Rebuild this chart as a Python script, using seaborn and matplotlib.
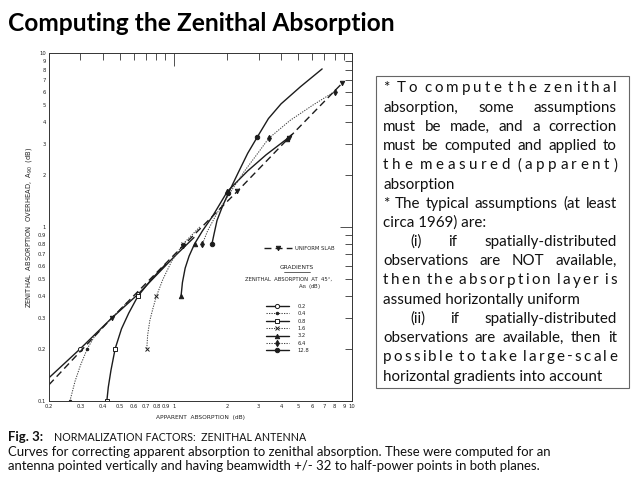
import re
import matplotlib
matplotlib.use("Agg")
import matplotlib.pyplot as plt
import seaborn as sns
from matplotlib.patches import Rectangle
from matplotlib.lines import Line2D

# ---------------------------------------------------------------------------
# Values (log-log axes, both in dB)
# ---------------------------------------------------------------------------
uniform_x = [0.2, 0.45, 1.13, 2.27, 4.42, 8.8]
uniform_y = [0.124, 0.3, 0.78, 1.6, 3.25, 6.7]

g02_x = [0.2, 0.3, 0.45, 0.63, 1.0, 1.3]
g02_y = [0.136, 0.2, 0.3, 0.41, 0.67, 0.87]

g04_x = [0.262, 0.28, 0.3, 0.328, 0.36, 0.4, 0.45, 0.55]
g04_y = [0.1, 0.13, 0.16, 0.2, 0.235, 0.265, 0.3, 0.37]

g08_x = [0.422, 0.43, 0.445, 0.47, 0.51, 0.56, 0.63, 0.75, 0.9]
g08_y = [0.1, 0.12, 0.15, 0.2, 0.26, 0.32, 0.4, 0.5, 0.61]

g16_x = [0.707, 0.715, 0.735, 0.765, 0.8, 0.87, 0.97, 1.13, 1.4]
g16_y = [0.2, 0.24, 0.29, 0.34, 0.4, 0.5, 0.63, 0.8, 1.0]

g32_x = [1.1, 1.12, 1.16, 1.22, 1.31, 1.45, 1.65, 2.0, 2.6, 3.3, 4.3, 4.6]
g32_y = [0.4, 0.48, 0.58, 0.68, 0.8, 0.95, 1.15, 1.6, 2.1, 2.6, 3.2, 3.4]

g64_x = [1.45, 1.55, 1.75, 2.05, 2.5, 3.0, 3.41, 4.5, 6.0, 7.98]
g64_y = [0.8, 0.95, 1.2, 1.55, 2.1, 2.7, 3.23, 4.1, 5.0, 6.0]

g128_x = [1.64, 1.68, 1.75, 1.87, 2.03, 2.3, 2.6, 2.94, 3.4, 4.0, 5.14, 6.8]
g128_y = [0.8, 0.9, 1.09, 1.3, 1.57, 2.05, 2.65, 3.28, 4.2, 5.1, 6.4, 8.1]

gradient_labels = ["0.2", "0.4", "0.8", "1.6", "3.2", "6.4", "12.8"]

x_ticks = [0.2, 0.3, 0.4, 0.5, 0.6, 0.7, 0.8, 0.9, 1, 2, 3, 4, 5, 6, 7, 8, 9, 10]
y_ticks = [0.1, 0.2, 0.3, 0.4, 0.5, 0.6, 0.7, 0.8, 0.9, 1, 2, 3, 4, 5, 6, 7, 8, 9, 10]
x_tick_labels = ["0.2", "0.3", "0.4", "0.5", "0.6", "0.7", "0.8", "0.9", "1",
                 "2", "3", "4", "5", "6", "7", "8", "9", "10"]
y_tick_labels = ["0.1", "0.2", "0.3", "0.4", "0.5", "0.6", "0.7", "0.8", "0.9", "1",
                 "2", "3", "4", "5", "6", "7", "8", "9", "10"]

title = "Computing the Zenithal Absorption"
caption_bold = "Fig. 3:"
caption_head = "NORMALIZATION FACTORS:  ZENITHAL ANTENNA"
caption_lines = [
    "Curves for correcting apparent absorption to zenithal absorption. These were computed for an",
    "antenna pointed vertically and having beamwidth +/- 32 to half-power points in both planes.",
]

# (text, alignment mode, indented)
box_lines = [
    ("* To compute the zenithal", "char", False),
    ("absorption, some assumptions", "word", False),
    ("must be made, and a correction", "word", False),
    ("must be computed and applied to", "word", False),
    ("the measured (apparent)", "char", False),
    ("absorption", "left", False),
    ("* The typical assumptions (at least", "word", False),
    ("circa 1969) are:", "left", False),
    ("(i) if spatially-distributed", "word", True),
    ("observations are NOT available,", "word", False),
    ("then the absorption layer is", "char", False),
    ("assumed horizontally uniform", "left", False),
    ("(ii) if spatially-distributed", "word", True),
    ("observations are available, then it", "word", False),
    ("possible to take large-scale", "char", False),
    ("horizontal gradients into account", "left", False),
]

# ---------------------------------------------------------------------------
sns.set_theme(style="white")
plt.rcParams["font.family"] = ["DejaVu Sans"]

FONT = "Lato"
W, H = 638, 478
INK = "#1c1c1c"

fig = plt.figure(figsize=(W / 100, H / 100), dpi=100)
fig.patch.set_facecolor("white")
renderer = fig.canvas.get_renderer()


def px(x, y):
    return x / W, 1 - y / H


def text_width(s, size, weight="normal"):
    t = fig.text(0, 0, s, fontsize=size, family=FONT, weight=weight)
    w = t.get_window_extent(renderer).width
    t.remove()
    return w


def fit_size(s, target, weight="normal"):
    return 10 * target / text_width(s, 10, weight)


# --- the scanned chart -----------------------------------------------------
ax = fig.add_axes([49 / W, 1 - 401 / H, 303 / W, 348 / H])
ax.set_xscale("log")
ax.set_yscale("log")

solid = dict(color=INK, linestyle="-", linewidth=1.0)
dotted = dict(color="#444444", linestyle=(0, (1.2, 1.2)), linewidth=0.75)

curves = [
    (g02_x, g02_y, solid, dict(marker="o", ms=3, mfc="white", markevery=[1, 3])),
    (g04_x, g04_y, dotted, dict(marker="o", ms=1.8, mfc=INK, markevery=[0, 3])),
    (g08_x, g08_y, solid, dict(marker="s", ms=3, mfc="white", markevery=[0, 3, 6])),
    (g16_x, g16_y, dotted, dict(marker="x", ms=3, mfc=INK, markevery=[0, 4, 7])),
    (g32_x, g32_y, solid, dict(marker="^", ms=3.2, mfc=INK, markevery=[0, 4, 7, 10])),
    (g64_x, g64_y, dotted, dict(marker="d", ms=3.2, mfc=INK, markevery=[0, 6, 9])),
    (g128_x, g128_y, solid, dict(marker="o", ms=3.2, mfc=INK, markevery=[0, 4, 7])),
]

grad_lines = []
for (xs, ys, line_kw, mark_kw), lab in zip(curves, gradient_labels):
    sns.lineplot(x=xs, y=ys, ax=ax, sort=False, estimator=None, legend=False,
                 label=lab, mec=INK, mew=0.7, **line_kw, **mark_kw)
    grad_lines.append(ax.lines[-1])

sns.lineplot(x=uniform_x, y=uniform_y, ax=ax, sort=False, estimator=None, legend=False,
             label="UNIFORM SLAB", color=INK, linestyle=(0, (5, 3)), linewidth=1.0,
             marker="v", ms=3.2, mfc=INK, mec=INK, mew=0.7, markevery=[1, 2, 3, 4, 5])
uniform_line = ax.lines[-1]

ax.set_xlim(0.2, 10)
ax.set_ylim(0.1, 10)

# long ticks at the decades, short ones elsewhere (all labelled)
ax.set_xticks([1, 10], ["1", "10"])
ax.set_xticks([t for t in x_ticks if t not in (1, 10)],
              [l for t, l in zip(x_ticks, x_tick_labels) if t not in (1, 10)], minor=True)
ax.set_yticks([0.1, 1, 10], ["0.1", "1", "10"])
ax.set_yticks([t for t in y_ticks if t not in (0.1, 1, 10)],
              [l for t, l in zip(y_ticks, y_tick_labels) if t not in (0.1, 1, 10)], minor=True)
ax.tick_params(which="both", direction="in", top=True, right=True, width=0.6,
               color="#333333", labelsize=3.8, labelcolor="#222222", pad=2)
ax.tick_params(which="major", length=9)
ax.tick_params(which="minor", length=5)

for sp in ax.spines.values():
    sp.set_color("#333333")
    sp.set_linewidth(0.7)

ax.set_xlabel("APPARENT  ABSORPTION  (dB)", fontsize=4.2, color="#222222")
ax.xaxis.set_label_coords(0.5, -0.04)
ax.set_ylabel("ZENITHAL  ABSORPTION  OVERHEAD,  A$_{90}$  (dB)", fontsize=4.9, color="#222222")
ax.yaxis.set_label_coords(-0.05, 0.5)

# legend block inside the plot
leg1 = ax.legend(handles=[uniform_line], loc="upper left", bbox_to_anchor=(0.71, 0.445),
                 frameon=False, fontsize=3.8, handlelength=5.2, handletextpad=0.7,
                 borderpad=0, borderaxespad=0)
ax.add_artist(leg1)
ax.text(0.818, 0.383, "GRADIENTS", transform=ax.transAxes,
        fontsize=4.2, ha="center", va="center", color="#222222")
ax.add_line(Line2D([0.775, 0.861], [0.371, 0.371], transform=ax.transAxes,
                   color="#222222", linewidth=0.5))
ax.text(0.792, 0.349, "ZENITHAL  ABSORPTION  AT  45°,", transform=ax.transAxes,
        fontsize=3.8, ha="center", va="center", color="#222222")
ax.text(0.858, 0.328, "A$_{45}$ (dB)", transform=ax.transAxes,
        fontsize=3.8, ha="center", va="center", color="#222222")
ax.legend(handles=grad_lines, loc="upper left", bbox_to_anchor=(0.715, 0.279),
          frameon=False, fontsize=3.8, handlelength=4.4, handletextpad=1.6,
          labelspacing=0.45, borderpad=0, borderaxespad=0)

# --- slide text --------------------------------------------------------------
fig.text(*px(8, 31), title, fontsize=fit_size(title, 386, "bold"), family=FONT,
         weight="bold", color="black", va="baseline")

cap_size = fit_size(caption_lines[0], 545)
fig.text(*px(8, 441), caption_bold, fontsize=cap_size, family=FONT, weight="bold",
         color="#111111", va="baseline")
head_x = 8 + text_width(caption_bold, cap_size, "bold") + 1.1 * cap_size
fig.text(*px(head_x, 441), caption_head, fontsize=fit_size(caption_head, 302 - head_x),
         family=FONT, color="#111111", va="baseline")
for i, line in enumerate(caption_lines):
    fig.text(*px(8, 456 + i * 14.5), line, fontsize=cap_size, family=FONT,
             color="#111111", va="baseline")

# text box with justified lines
fig.add_artist(Rectangle(px(376, 388), 253 / W, 312 / H, transform=fig.transFigure,
                         fill=False, edgecolor="#666666", linewidth=0.8))
box_size = 0.5 * (fit_size("horizontal gradients into account", 225)
                  + fit_size("assumed horizontally uniform", 191))
X0, X1 = 383, 617
for i, (line, mode, indented) in enumerate(box_lines):
    base = 92.5 + i * 19.2
    left = X0 + (27 if indented else 0)
    if mode == "left":
        fig.text(*px(left, base), line, fontsize=box_size, family=FONT,
                 color="#111111", va="baseline")
        continue
    if mode == "word":
        spans = [(m.start(), m.end()) for m in re.finditer(r"\S+", line)]
    else:
        spans = [(k, k + 1) for k, c in enumerate(line) if c != " "]
    extra = (X1 - left - text_width(line, box_size)) / (len(spans) - 1)
    for k, (a, b) in enumerate(spans):
        tok = line[a:b]
        pos = text_width(line[:b], box_size) - text_width(tok, box_size)
        fig.text(*px(left + pos + k * extra, base), tok, fontsize=box_size,
                 family=FONT, color="#111111", va="baseline")

fig.savefig("out.png", dpi=100, facecolor="white")
